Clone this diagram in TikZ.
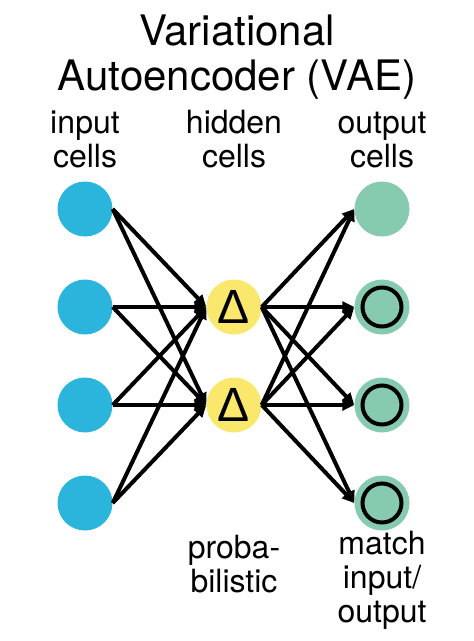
\documentclass[tikz,border=0pt]{standalone}
\usepackage{fontspec}
\setmainfont{TeX Gyre Heros}
\newfontfamily\deltafont{Liberation Sans}
\usepackage{tikz}
\usetikzlibrary{positioning,arrows.meta}
\definecolor{incell}{HTML}{2BB5DC}
\definecolor{hidcell}{HTML}{FAE86C}
\definecolor{outcell}{HTML}{86CBB0}
\tikzset{
  >={Triangle[length=12pt,width=11pt]},
  cell/.style={circle, inner sep=0pt, minimum size=55pt},
  inp/.style={cell, fill=incell},
  hid/.style={cell, fill=hidcell, font=\deltafont\fontsize{48}{48}\selectfont},
  outp/.style={cell, fill=outcell},
  ring/.style={outp, path picture={
      \draw[line width=4pt] (path picture bounding box.center) circle (19.5pt);}},
  lbl/.style={align=center, anchor=base, inner sep=0pt, font=\fontsize{32}{34}\selectfont},
  ttl/.style={lbl, font=\fontsize{42}{45}\selectfont},
  l/.style={->, line width=4pt, draw=black},
}
\begin{document}
\begin{tikzpicture}[x=1pt,y=-1pt]
  \useasboundingbox (0,0) rectangle (474,641);
  % labels (base = last line)
  \node[ttl] (title) at (237,90) {Variational\\Autoencoder (VAE)};
  \node[lbl] (linp) at (85,167) {input\\cells};
  \node[lbl] (lhid) at (234,167) {hidden\\cells};
  \node[lbl] (lout) at (382,167) {output\\cells};
  \node[lbl] (lprob) at (234,592) {proba-\\bilistic};
  \node[lbl] (lmatch) at (382,622) {match\\input/\\output};
  % cells
  \node[inp] (i1) at (85,209) {};
  \node[inp] (i2) at (85,307) {};
  \node[inp] (i3) at (85,405) {};
  \node[inp] (i4) at (85,503) {};
  \node[hid] (h1) at (234,307) {Δ};
  \node[hid] (h2) at (234,405) {Δ};
  \node[outp] (o1) at (382,209) {};
  \node[ring] (o2) at (382,307) {};
  \node[ring] (o3) at (382,405) {};
  \node[ring] (o4) at (382,503) {};
  % connections
  \draw[l](i1.east)--(h1.west);\draw[l](i1.east)--(h2.west);
  \draw[l](i2.east)--(h1.west);\draw[l](i2.east)--(h2.west);
  \draw[l](i3.east)--(h1.west);\draw[l](i3.east)--(h2.west);
  \draw[l](i4.east)--(h1.west);\draw[l](i4.east)--(h2.west);
  \draw[l](h1.east)--(o1.west);\draw[l](h1.east)--(o2.west);
  \draw[l](h1.east)--(o3.west);\draw[l](h1.east)--(o4.west);
  \draw[l](h2.east)--(o1.west);\draw[l](h2.east)--(o2.west);
  \draw[l](h2.east)--(o3.west);\draw[l](h2.east)--(o4.west);
\end{tikzpicture}
\end{document}
